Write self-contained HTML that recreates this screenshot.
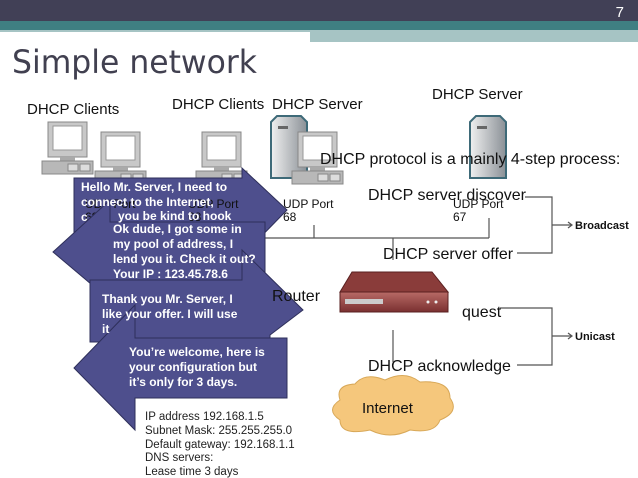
<!DOCTYPE html>
<html><head><meta charset="utf-8"><style>
html,body{margin:0;padding:0;background:#fff;}
svg{display:block;font-family:"Liberation Sans",Arial,sans-serif;}
</style></head><body>
<svg width="638" height="478" viewBox="0 0 638 478" xmlns="http://www.w3.org/2000/svg">
<defs>
<linearGradient id="srv" x1="0" x2="1"><stop offset="0" stop-color="#f0f0f0"/><stop offset="1" stop-color="#8a9096"/></linearGradient>
<linearGradient id="rt" x1="0" x2="0" y1="0" y2="1"><stop offset="0" stop-color="#b86a66"/><stop offset="1" stop-color="#7a3030"/></linearGradient>
<g id="pc">
<rect x="6" y="0" width="39" height="35" fill="#c8c8c8" stroke="#888"/>
<rect x="11" y="4" width="29" height="24" fill="#fff" stroke="#999"/>
<rect x="18" y="35" width="15" height="4" fill="#aaa"/>
<rect x="0" y="39" width="51" height="13" fill="#b8b8b8" stroke="#888"/>
<rect x="26" y="42" width="10" height="7" fill="#ddd" stroke="#888"/>
<rect x="38" y="42" width="10" height="7" fill="#ddd" stroke="#888"/>
</g>
<g id="server">
<path d="M4 6 L10 0 L34 0 L40 6 L40 62 L4 62 Z" fill="url(#srv)" stroke="#3e6a78" stroke-width="2"/>
<rect x="11" y="10" width="10" height="3" fill="#666"/>
</g>
</defs>
<!-- header -->
<rect x="0" y="0" width="638" height="21" fill="#414056"/>
<rect x="0" y="21" width="638" height="9" fill="#3f7f82"/>
<rect x="0" y="30" width="310" height="2" fill="#a6c4c4"/>
<rect x="310" y="30" width="328" height="12" fill="#a6c4c4"/>
<text x="624" y="17" fill="#fff" font-size="15" text-anchor="end">7</text>
<text x="12" y="73" fill="#414050" font-size="32" font-family="DejaVu Sans,Liberation Sans,sans-serif" textLength="245" lengthAdjust="spacingAndGlyphs">Simple network</text>

<!-- labels -->
<g font-size="15" fill="#111">
<text x="27" y="114">DHCP Clients</text>
<text x="172" y="109">DHCP Clients</text>
<text x="272" y="109">DHCP Server</text>
<text x="432" y="99">DHCP Server</text>
</g>
<use href="#pc" x="42" y="122"/>
<use href="#pc" x="95" y="132"/>
<use href="#pc" x="196" y="132"/>
<use href="#server" x="267" y="116"/>
<use href="#pc" x="292" y="132"/>
<use href="#server" x="466" y="116"/>

<g font-size="16" fill="#111">
<text x="320" y="164">DHCP protocol is a mainly 4-step process:</text>
<text x="368" y="200">DHCP server discover</text>
<text x="383" y="259">DHCP server offer</text>
<text x="462" y="317">quest</text>
<text x="368" y="371">DHCP acknowledge</text>
</g>
<g font-size="12" fill="#111">
<text x="283" y="208">UDP Port</text><text x="283" y="221">68</text>
<text x="453" y="208">UDP Port</text><text x="453" y="221">67</text>
</g>
<g stroke="#555" fill="none" stroke-width="1.2">
<path d="M100 238 H489"/>
<path d="M314 225 V238 M489 218 V238 M393 238 V260 M393 330 V362"/>
<path d="M525 197 H552 V253 H517"/>
<path d="M500 308 H552 V365 H517"/>
<path d="M552 225 H572 M568 222 L572 225 L568 228"/>
<path d="M552 336 H572 M568 333 L572 336 L568 339"/>
</g>
<g font-size="11" font-weight="bold" fill="#111">
<text x="575" y="229">Broadcast</text>
<text x="575" y="340">Unicast</text>
</g>
<!-- router -->
<path d="M352 272 L432 272 L448 292 L340 292 Z" fill="#8a3c3a" stroke="#5a2020"/>
<rect x="340" y="292" width="108" height="20" fill="url(#rt)" stroke="#5a2020"/>
<rect x="345" y="299" width="38" height="5" fill="#ccc"/>
<circle cx="428" cy="302" r="1.5" fill="#eee"/><circle cx="436" cy="302" r="1.5" fill="#eee"/>
<!-- cloud -->
<path d="M340 400 Q335 385 355 384 Q365 372 385 380 Q405 370 420 382 Q450 380 450 398 Q460 412 440 420 Q435 434 410 430 Q390 440 370 430 Q340 436 340 420 Q325 410 340 400 Z" fill="#f5c77c" stroke="#d8a858"/>
<text x="362" y="413" font-size="15" fill="#111">Internet</text>

<!-- callouts -->
<g fill="#4e4f8d" stroke="#2e2f5a" stroke-width="1">
<polygon points="74,178 242,178 242,168 287,210 242,256 242,236 74,236"/>
<text x="85" y="208" font-size="12" fill="#111" stroke="none">UDP Port</text><text x="85" y="221" font-size="12" fill="#111" stroke="none">68</text>
<text x="188" y="208" font-size="12" fill="#111" stroke="none">UDP Port</text><text x="188" y="221" font-size="12" fill="#111" stroke="none">68</text>
<polygon points="110,222 265,222 265,282 110,282 110,300 53,252 110,200"/>
<polygon points="90,280 242,280 242,250 303,310 270,335 270,342 90,342"/>
<polygon points="135,338 287,338 287,398 135,398 135,430 74,368 135,305"/>
</g>
<text x="272" y="301" font-size="16" fill="#111">Router</text>
<g font-size="12" font-weight="bold" fill="#fff">
<text x="81" y="191">Hello Mr. Server, I need to</text>
<text x="81" y="206">connect to the Internet,</text>
<text x="81" y="221">c</text>
<text x="118" y="220">you be kind to hook</text>
<text x="113" y="233">Ok dude, I got some in</text>
<text x="113" y="248">my pool of address, I</text>
<text x="113" y="263">lend you it. Check it out?</text>
<text x="113" y="278">Your IP :  123.45.78.6</text>
<text x="102" y="303">Thank you Mr. Server, I</text>
<text x="102" y="318">like your offer. I will use</text>
<text x="102" y="333">it</text>
<text x="129" y="356">You’re welcome, here is</text>
<text x="129" y="371">your configuration but</text>
<text x="129" y="386">it’s only for 3 days.</text>
</g>
<rect x="137" y="400" width="160" height="78" fill="#fff"/>
<g font-size="11.5" fill="#222">
<text x="145" y="420">IP address 192.168.1.5</text>
<text x="145" y="434">Subnet Mask: 255.255.255.0</text>
<text x="145" y="448">Default gateway: 192.168.1.1</text>
<text x="145" y="461">DNS servers:</text>
<text x="145" y="475">Lease time 3 days</text>
</g>
</svg>
</body></html>
